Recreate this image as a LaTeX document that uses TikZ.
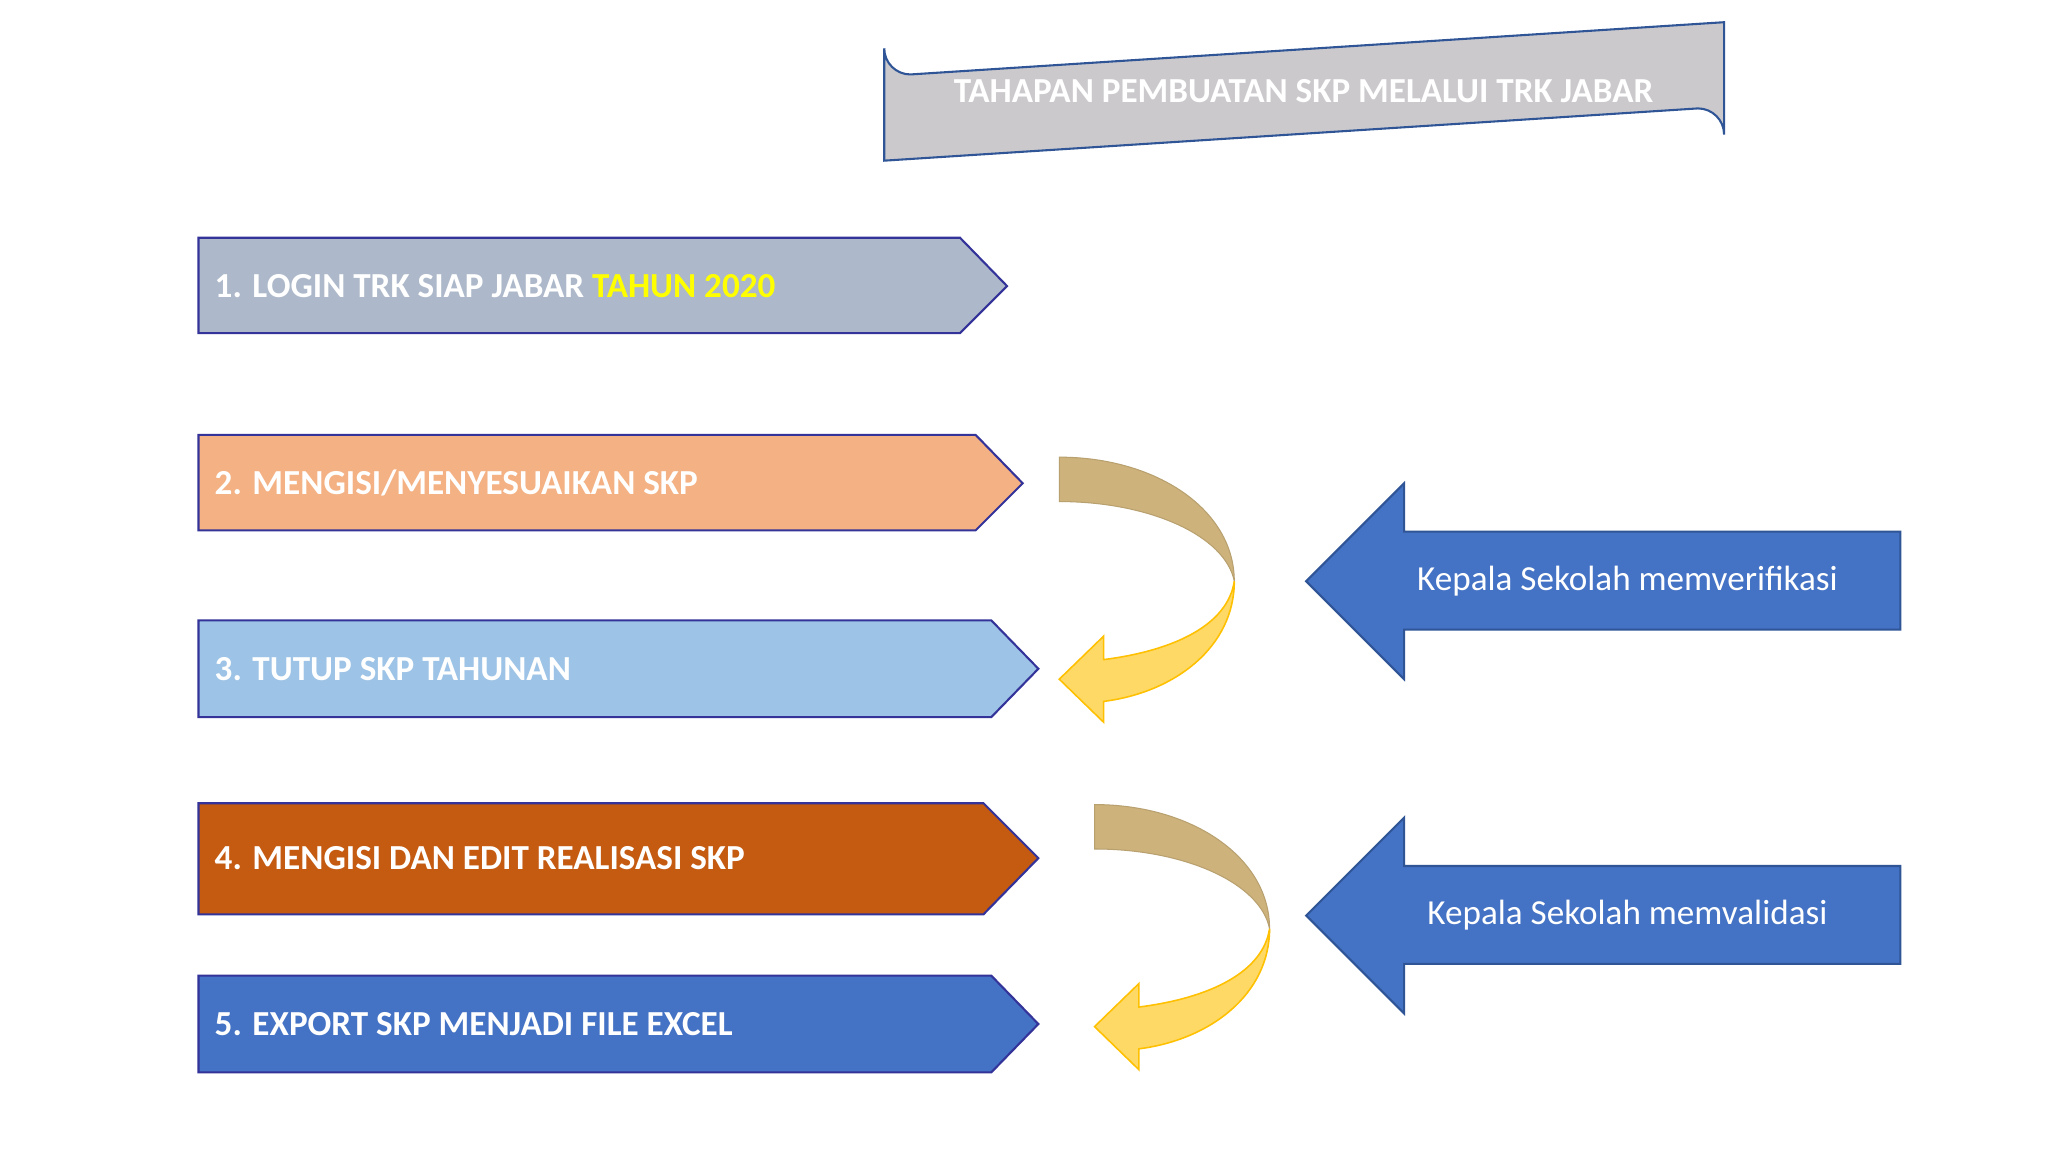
\documentclass[tikz,border=0pt]{standalone}
\usepackage{fontspec}
\setmainfont{Carlito}
\begin{document}
\begin{tikzpicture}[x=0.5bp,y=-0.5bp,
  stepbox/.style={draw=blue!50!black!80, line width=0.8pt},
  steptext/.style={anchor=west, text=white, font=\fontsize{13.5}{16}\selectfont\bfseries, inner sep=0pt},
  leftarrow/.style={fill=blueB, draw=blueD, line width=0.8pt},
  lefttext/.style={text=white, font=\fontsize{13.5}{16}\selectfont, inner sep=0pt},
  curvetop/.style={fill=khaki, draw=khaki!90!black, line width=0.4pt},
  curvebot/.style={fill=yel, draw=yelD, line width=0.6pt}]
\definecolor{blueB}{HTML}{4472C4}
\definecolor{blueD}{HTML}{2F5597}
\definecolor{khaki}{HTML}{CDB27B}
\definecolor{yel}{HTML}{FFD966}
\definecolor{yelD}{HTML}{FFC000}
\definecolor{c1}{HTML}{ADB9CA}
\definecolor{c2}{HTML}{F4B183}
\definecolor{c3}{HTML}{9DC3E6}
\definecolor{c4}{HTML}{C55A11}
\definecolor{c5}{HTML}{4472C4}
\definecolor{tgray}{HTML}{CBC9CC}
\definecolor{tyel}{HTML}{FFFF00}
\useasboundingbox[fill=white] (0,0) rectangle (1568,882);
% title
\draw[fill=tgray, draw=blueD, line width=0.8pt]
  (677,123) -- (677,37) arc[start angle=180,end angle=90,radius=20] -- (1320,17) -- (1320,103) arc[start angle=0,end angle=-90,radius=20] -- cycle;
\node[text=white, font=\fontsize{13.5}{16}\selectfont\bfseries] (title) at (998,70) {TAHAPAN PEMBUATAN SKP MELALUI TRK JABAR};
% steps
\draw[stepbox, fill=c1] (152,182) -- (735,182) -- (771,219) -- (735,255) -- (152,255) -- cycle;
\node[steptext] (s1) at (164,219) {1. LOGIN TRK SIAP JABAR \textcolor{tyel}{TAHUN 2020}};
\draw[stepbox, fill=c2] (152,333) -- (747,333) -- (783,370) -- (747,406) -- (152,406) -- cycle;
\node[steptext] (s2) at (164,370) {2. MENGISI/MENYESUAIKAN SKP};
\draw[stepbox, fill=c3] (152,475) -- (759,475) -- (795,512) -- (759,549) -- (152,549) -- cycle;
\node[steptext] (s3) at (164,512) {3. TUTUP SKP TAHUNAN};
\draw[stepbox, fill=c4] (152,615) -- (753,615) -- (795,657) -- (753,700) -- (152,700) -- cycle;
\node[steptext] (s4) at (164,657) {4. MENGISI DAN EDIT REALISASI SKP};
\draw[stepbox, fill=c5] (152,747) -- (759,747) -- (795,784) -- (759,821) -- (152,821) -- cycle;
\node[steptext] (s5) at (164,784) {5. EXPORT SKP MENJADI FILE EXCEL};
% left arrows
\draw[leftarrow] (1000,445) -- (1075,370) -- (1075,407) -- (1455,407) -- (1455,482) -- (1075,482) -- (1075,520) -- cycle;
\node[lefttext] (k1) at (1246,445) {Kepala Sekolah memverifikasi};
\draw[leftarrow] (1000,701) -- (1075,626) -- (1075,663) -- (1455,663) -- (1455,738) -- (1075,738) -- (1075,776) -- cycle;
\node[lefttext] (k2) at (1246,701) {Kepala Sekolah memvalidasi};
% curved arrows
\foreach \dx/\dy in {0/0, 27/266}{
\begin{scope}[shift={(\dx,\dy)}]
\draw[curvetop] (811,350) .. controls (885,350) and (945,390) .. (945,445)
  .. controls (938,410) and (880,384) .. (811,384) -- cycle;
\draw[curvebot] (945,445) .. controls (945,495) and (900,530) .. (845,537)
  -- (845,553) -- (811,520) -- (845,487) -- (845,505)
  .. controls (900,498) and (940,478) .. (945,445) -- cycle;
\end{scope}}
\end{tikzpicture}
\end{document}
